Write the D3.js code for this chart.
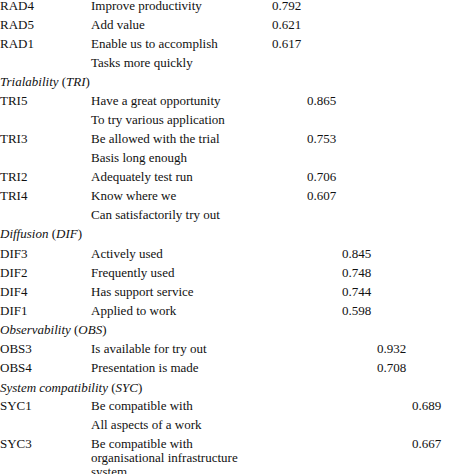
<!DOCTYPE html>
<html><head><meta charset="utf-8">
<script src="https://cdn.jsdelivr.net/npm/d3@7"></script>
<style>body{margin:0;background:#fff}</style>
</head><body><svg></svg>
<script>
// rows: header rows have kind "h"
let codes = ["RAD4","RAD5","RAD1","","h:Trialability|TRI","TRI5","","TRI3","","TRI2","TRI4","",
  "h:Diffusion|DIF","DIF3","DIF2","DIF4","DIF1","h:Observability|OBS","OBS3","OBS4",
  "h:System compatibility|SYC","SYC1","","SYC3","",""];
let items = ["Improve productivity","Add value","Enable us to accomplish","Tasks more quickly","",
  "Have a great opportunity","To try various application","Be allowed with the trial","Basis long enough",
  "Adequately test run","Know where we","Can satisfactorily try out","",
  "Actively used","Frequently used","Has support service","Applied to work","",
  "Is available for try out","Presentation is made","",
  "Be compatible with","All aspects of a work","Be compatible with","organisational infrastructure","system"];
let loadings = ["0.792","0.621","0.617","","","0.865","","0.753","","0.706","0.607","",
  "","0.845","0.748","0.744","0.598","","0.932","0.708","","0.689","","0.667","",""];
let factor = [0,0,0,0,0,1,1,1,1,1,1,1,2,2,2,2,2,3,3,3,4,4,4,4,4,4];
let factors = [0,1,2,3,4];
// line spacing tweaks: wrapped lines inside a cell are tighter
let rowY = [5,24,43,62,81,100,119,138,157,176,195,214,233,253,272,291,310,329,348,367,387,405,424,443,457,471];

let W = 474, H = 474;
let svg = d3.select("svg").attr("width", W).attr("height", H)
  .style("font-family", "'Liberation Serif','DejaVu Serif',serif").style("font-size", "13px").attr("fill", "#111");

let x = d3.scaleLinear().domain([0, 4]).range([272, 412]);
let y = d3.scaleLinear().domain([0, H]).range([0, H]);

codes.forEach(function (c, i) {
  let yy = y(rowY[i]) + 4.5;
  if (c.startsWith("h:")) {
    let parts = c.slice(2).split("|");
    let t = svg.append("text").attr("x", 0).attr("y", yy);
    t.append("tspan").style("font-style", "italic").text(parts[0] + " ");
    t.append("tspan").text("(");
    t.append("tspan").style("font-style", "italic").text(parts[1]);
    t.append("tspan").text(")");
    return;
  }
  if (c) svg.append("text").attr("x", 0).attr("y", yy).text(c);
  if (items[i]) svg.append("text").attr("x", 91).attr("y", yy).text(items[i]);
  if (loadings[i]) svg.append("text").attr("x", x(factor[i])).attr("y", yy).text(loadings[i]);
});
</script></body></html>
